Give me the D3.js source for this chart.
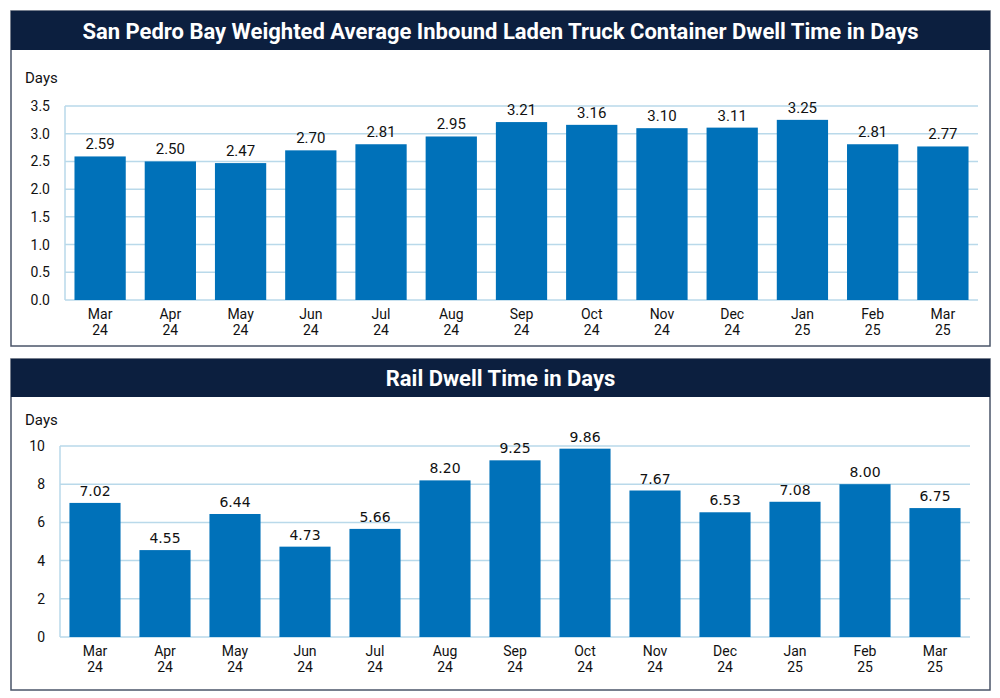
<!DOCTYPE html>
<html>
<head>
<meta charset="utf-8">
<script src="https://cdn.jsdelivr.net/npm/d3@7"></script>
<style>
  body { margin: 0; background: #fff; }
  text { font-family: Roboto, "Liberation Sans", sans-serif; }
</style>
</head>
<body>
<script>
var months = ["Mar 24", "Apr 24", "May 24", "Jun 24", "Jul 24", "Aug 24", "Sep 24",
              "Oct 24", "Nov 24", "Dec 24", "Jan 25", "Feb 25", "Mar 25"];
var truckDwell = [2.59, 2.50, 2.47, 2.70, 2.81, 2.95, 3.21, 3.16, 3.10, 3.11, 3.25, 2.81, 2.77];
var railDwell = [7.02, 4.55, 6.44, 4.73, 5.66, 8.20, 9.25, 9.86, 7.67, 6.53, 7.08, 8.00, 6.75];
var truckTicks = [0, 0.5, 1.0, 1.5, 2.0, 2.5, 3.0, 3.5];
var railTicks = [0, 2, 4, 6, 8, 10];

var navy = "#0c1f3f", barColor = "#0071b9", gridColor = "#b9d9ea";

var svg = d3.select("body").append("svg")
    .attr("width", 1000)
    .attr("height", 698);

// one panel: header + body + bar chart
function panel(opts) {
  var g = svg.append("g");

  g.append("rect")
      .attr("x", opts.x0).attr("y", opts.top)
      .attr("width", opts.x1 - opts.x0).attr("height", opts.bottom - opts.top)
      .attr("fill", "#fff")
      .attr("stroke", "#4a5468").attr("stroke-width", 1.5);

  g.append("rect")
      .attr("x", opts.x0).attr("y", opts.top)
      .attr("width", opts.x1 - opts.x0).attr("height", opts.headH)
      .attr("fill", navy);

  g.append("text")
      .attr("x", (opts.x0 + opts.x1) / 2)
      .attr("y", opts.top + opts.headH / 2 + 8)
      .attr("text-anchor", "middle")
      .attr("fill", "#fff")
      .style("font-size", "22px")
      .style("font-weight", "bold")
      .text(opts.title);

  g.append("text")
      .attr("x", 25).attr("y", opts.daysY)
      .attr("fill", "#111")
      .style("font-size", "15px")
      .text("Days");

  var x = d3.scaleBand()
      .domain(months)
      .range([opts.left, opts.right])
      .paddingInner(0.27)
      .paddingOuter(0.135);

  var y = d3.scaleLinear()
      .domain([0, d3.max(opts.ticks)])
      .range([opts.base, opts.ytop]);

  // gridlines
  g.append("g")
      .selectAll("line")
      .data(opts.ticks)
      .enter().append("line")
      .attr("x1", opts.left).attr("x2", opts.right)
      .attr("y1", function(d) { return y(d); })
      .attr("y2", function(d) { return y(d); })
      .attr("stroke", gridColor).attr("stroke-width", 1.5);

  g.append("line")
      .attr("x1", opts.left).attr("x2", opts.left)
      .attr("y1", opts.ytop).attr("y2", opts.base)
      .attr("stroke", gridColor).attr("stroke-width", 1.5);

  // y axis labels
  var yAxis = g.append("g")
      .attr("transform", "translate(" + (opts.left - 12) + ",0)")
      .call(d3.axisLeft(y).tickValues(opts.ticks).tickFormat(opts.fmt).tickSize(0));
  yAxis.select(".domain").remove();
  yAxis.selectAll("text")
      .attr("fill", "#111")
      .style("font-size", "14px")
      .style("font-family", "Roboto, sans-serif");

  // bars
  g.selectAll(".bar")
      .data(opts.values)
      .enter().append("rect")
      .attr("class", "bar")
      .attr("x", function(d, i) { return x(months[i]); })
      .attr("width", x.bandwidth())
      .attr("y", function(d) { return y(d); })
      .attr("height", function(d) { return opts.base - y(d); })
      .attr("fill", barColor);

  // value labels
  g.selectAll(".val")
      .data(opts.values)
      .enter().append("text")
      .attr("class", "val")
      .attr("x", function(d, i) { return x(months[i]) + x.bandwidth() / 2; })
      .attr("y", function(d) { return y(d) - 7; })
      .attr("text-anchor", "middle")
      .attr("fill", "#111")
      .style("font-size", opts.valSize)
      .style("font-family", opts.valFont)
      .text(function(d) { return d.toFixed(2); });

  // x axis labels (two lines)
  var xl = g.selectAll(".xl")
      .data(months)
      .enter().append("text")
      .attr("class", "xl")
      .attr("text-anchor", "middle")
      .attr("fill", "#111")
      .style("font-size", "14px");
  xl.append("tspan")
      .attr("x", function(d) { return x(d) + x.bandwidth() / 2; })
      .attr("y", opts.base + 19)
      .text(function(d) { return d.split(" ")[0]; });
  xl.append("tspan")
      .attr("x", function(d) { return x(d) + x.bandwidth() / 2; })
      .attr("y", opts.base + 35)
      .text(function(d) { return d.split(" ")[1]; });
}

panel({
  title: "San Pedro Bay Weighted Average Inbound Laden Truck Container Dwell Time in Days",
  x0: 11, x1: 990, top: 11, bottom: 346, headH: 39,
  daysY: 83,
  left: 65, right: 978, ytop: 106, base: 300,
  ticks: truckTicks, fmt: d3.format(".1f"),
  values: truckDwell, valSize: "15px", valFont: "Roboto, sans-serif"
});

panel({
  title: "Rail Dwell Time in Days",
  x0: 11, x1: 990, top: 359, bottom: 690, headH: 38,
  daysY: 425,
  left: 60, right: 970, ytop: 446, base: 637,
  ticks: railTicks, fmt: d3.format("d"),
  values: railDwell, valSize: "14px", valFont: "'DejaVu Sans', sans-serif"
});
</script>
</body>
</html>
